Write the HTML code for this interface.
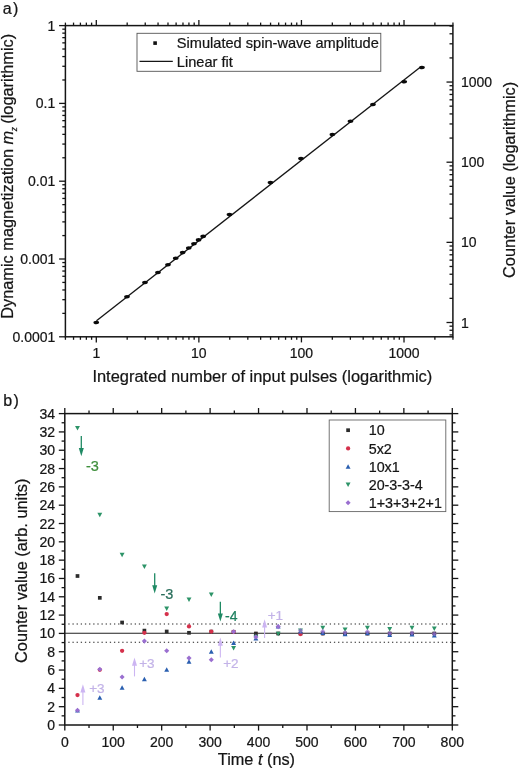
<!DOCTYPE html>
<html><head><meta charset="utf-8"><title>figure</title>
<style>html,body{margin:0;padding:0;background:#fff}svg{display:block}text{font-family:"Liberation Sans",Arial,sans-serif}</style>
</head><body>
<svg width="520" height="770" viewBox="0 0 520 770">
<rect width="520" height="770" fill="#ffffff"/>
<rect x="65.4" y="25.6" width="387.50" height="311.20" fill="none" stroke="#151515" stroke-width="1.5"/>
<line x1="65.42" y1="336.80" x2="65.42" y2="339.80" stroke="#151515" stroke-width="1.3" />
<line x1="65.42" y1="25.60" x2="65.42" y2="22.60" stroke="#151515" stroke-width="1.3" />
<line x1="73.54" y1="336.80" x2="73.54" y2="339.80" stroke="#151515" stroke-width="1.3" />
<line x1="73.54" y1="25.60" x2="73.54" y2="22.60" stroke="#151515" stroke-width="1.3" />
<line x1="80.41" y1="336.80" x2="80.41" y2="339.80" stroke="#151515" stroke-width="1.3" />
<line x1="80.41" y1="25.60" x2="80.41" y2="22.60" stroke="#151515" stroke-width="1.3" />
<line x1="86.36" y1="336.80" x2="86.36" y2="339.80" stroke="#151515" stroke-width="1.3" />
<line x1="86.36" y1="25.60" x2="86.36" y2="22.60" stroke="#151515" stroke-width="1.3" />
<line x1="91.61" y1="336.80" x2="91.61" y2="339.80" stroke="#151515" stroke-width="1.3" />
<line x1="91.61" y1="25.60" x2="91.61" y2="22.60" stroke="#151515" stroke-width="1.3" />
<line x1="96.30" y1="336.80" x2="96.30" y2="342.40" stroke="#151515" stroke-width="1.3" />
<line x1="96.30" y1="25.60" x2="96.30" y2="20.00" stroke="#151515" stroke-width="1.3" />
<line x1="127.18" y1="336.80" x2="127.18" y2="339.80" stroke="#151515" stroke-width="1.3" />
<line x1="127.18" y1="25.60" x2="127.18" y2="22.60" stroke="#151515" stroke-width="1.3" />
<line x1="145.24" y1="336.80" x2="145.24" y2="339.80" stroke="#151515" stroke-width="1.3" />
<line x1="145.24" y1="25.60" x2="145.24" y2="22.60" stroke="#151515" stroke-width="1.3" />
<line x1="158.05" y1="336.80" x2="158.05" y2="339.80" stroke="#151515" stroke-width="1.3" />
<line x1="158.05" y1="25.60" x2="158.05" y2="22.60" stroke="#151515" stroke-width="1.3" />
<line x1="167.99" y1="336.80" x2="167.99" y2="339.80" stroke="#151515" stroke-width="1.3" />
<line x1="167.99" y1="25.60" x2="167.99" y2="22.60" stroke="#151515" stroke-width="1.3" />
<line x1="176.11" y1="336.80" x2="176.11" y2="339.80" stroke="#151515" stroke-width="1.3" />
<line x1="176.11" y1="25.60" x2="176.11" y2="22.60" stroke="#151515" stroke-width="1.3" />
<line x1="182.98" y1="336.80" x2="182.98" y2="339.80" stroke="#151515" stroke-width="1.3" />
<line x1="182.98" y1="25.60" x2="182.98" y2="22.60" stroke="#151515" stroke-width="1.3" />
<line x1="188.93" y1="336.80" x2="188.93" y2="339.80" stroke="#151515" stroke-width="1.3" />
<line x1="188.93" y1="25.60" x2="188.93" y2="22.60" stroke="#151515" stroke-width="1.3" />
<line x1="194.18" y1="336.80" x2="194.18" y2="339.80" stroke="#151515" stroke-width="1.3" />
<line x1="194.18" y1="25.60" x2="194.18" y2="22.60" stroke="#151515" stroke-width="1.3" />
<line x1="198.87" y1="336.80" x2="198.87" y2="342.40" stroke="#151515" stroke-width="1.3" />
<line x1="198.87" y1="25.60" x2="198.87" y2="20.00" stroke="#151515" stroke-width="1.3" />
<line x1="229.75" y1="336.80" x2="229.75" y2="339.80" stroke="#151515" stroke-width="1.3" />
<line x1="229.75" y1="25.60" x2="229.75" y2="22.60" stroke="#151515" stroke-width="1.3" />
<line x1="247.81" y1="336.80" x2="247.81" y2="339.80" stroke="#151515" stroke-width="1.3" />
<line x1="247.81" y1="25.60" x2="247.81" y2="22.60" stroke="#151515" stroke-width="1.3" />
<line x1="260.62" y1="336.80" x2="260.62" y2="339.80" stroke="#151515" stroke-width="1.3" />
<line x1="260.62" y1="25.60" x2="260.62" y2="22.60" stroke="#151515" stroke-width="1.3" />
<line x1="270.56" y1="336.80" x2="270.56" y2="339.80" stroke="#151515" stroke-width="1.3" />
<line x1="270.56" y1="25.60" x2="270.56" y2="22.60" stroke="#151515" stroke-width="1.3" />
<line x1="278.68" y1="336.80" x2="278.68" y2="339.80" stroke="#151515" stroke-width="1.3" />
<line x1="278.68" y1="25.60" x2="278.68" y2="22.60" stroke="#151515" stroke-width="1.3" />
<line x1="285.55" y1="336.80" x2="285.55" y2="339.80" stroke="#151515" stroke-width="1.3" />
<line x1="285.55" y1="25.60" x2="285.55" y2="22.60" stroke="#151515" stroke-width="1.3" />
<line x1="291.50" y1="336.80" x2="291.50" y2="339.80" stroke="#151515" stroke-width="1.3" />
<line x1="291.50" y1="25.60" x2="291.50" y2="22.60" stroke="#151515" stroke-width="1.3" />
<line x1="296.75" y1="336.80" x2="296.75" y2="339.80" stroke="#151515" stroke-width="1.3" />
<line x1="296.75" y1="25.60" x2="296.75" y2="22.60" stroke="#151515" stroke-width="1.3" />
<line x1="301.44" y1="336.80" x2="301.44" y2="342.40" stroke="#151515" stroke-width="1.3" />
<line x1="301.44" y1="25.60" x2="301.44" y2="20.00" stroke="#151515" stroke-width="1.3" />
<line x1="332.32" y1="336.80" x2="332.32" y2="339.80" stroke="#151515" stroke-width="1.3" />
<line x1="332.32" y1="25.60" x2="332.32" y2="22.60" stroke="#151515" stroke-width="1.3" />
<line x1="350.38" y1="336.80" x2="350.38" y2="339.80" stroke="#151515" stroke-width="1.3" />
<line x1="350.38" y1="25.60" x2="350.38" y2="22.60" stroke="#151515" stroke-width="1.3" />
<line x1="363.19" y1="336.80" x2="363.19" y2="339.80" stroke="#151515" stroke-width="1.3" />
<line x1="363.19" y1="25.60" x2="363.19" y2="22.60" stroke="#151515" stroke-width="1.3" />
<line x1="373.13" y1="336.80" x2="373.13" y2="339.80" stroke="#151515" stroke-width="1.3" />
<line x1="373.13" y1="25.60" x2="373.13" y2="22.60" stroke="#151515" stroke-width="1.3" />
<line x1="381.25" y1="336.80" x2="381.25" y2="339.80" stroke="#151515" stroke-width="1.3" />
<line x1="381.25" y1="25.60" x2="381.25" y2="22.60" stroke="#151515" stroke-width="1.3" />
<line x1="388.12" y1="336.80" x2="388.12" y2="339.80" stroke="#151515" stroke-width="1.3" />
<line x1="388.12" y1="25.60" x2="388.12" y2="22.60" stroke="#151515" stroke-width="1.3" />
<line x1="394.07" y1="336.80" x2="394.07" y2="339.80" stroke="#151515" stroke-width="1.3" />
<line x1="394.07" y1="25.60" x2="394.07" y2="22.60" stroke="#151515" stroke-width="1.3" />
<line x1="399.32" y1="336.80" x2="399.32" y2="339.80" stroke="#151515" stroke-width="1.3" />
<line x1="399.32" y1="25.60" x2="399.32" y2="22.60" stroke="#151515" stroke-width="1.3" />
<line x1="404.01" y1="336.80" x2="404.01" y2="342.40" stroke="#151515" stroke-width="1.3" />
<line x1="404.01" y1="25.60" x2="404.01" y2="20.00" stroke="#151515" stroke-width="1.3" />
<line x1="434.89" y1="336.80" x2="434.89" y2="339.80" stroke="#151515" stroke-width="1.3" />
<line x1="434.89" y1="25.60" x2="434.89" y2="22.60" stroke="#151515" stroke-width="1.3" />
<line x1="452.95" y1="336.80" x2="452.95" y2="339.80" stroke="#151515" stroke-width="1.3" />
<line x1="452.95" y1="25.60" x2="452.95" y2="22.60" stroke="#151515" stroke-width="1.3" />
<line x1="65.40" y1="336.80" x2="59.10" y2="336.80" stroke="#151515" stroke-width="1.3" />
<line x1="65.40" y1="313.38" x2="62.30" y2="313.38" stroke="#151515" stroke-width="1.3" />
<line x1="65.40" y1="299.68" x2="62.30" y2="299.68" stroke="#151515" stroke-width="1.3" />
<line x1="65.40" y1="289.96" x2="62.30" y2="289.96" stroke="#151515" stroke-width="1.3" />
<line x1="65.40" y1="282.42" x2="62.30" y2="282.42" stroke="#151515" stroke-width="1.3" />
<line x1="65.40" y1="276.26" x2="62.30" y2="276.26" stroke="#151515" stroke-width="1.3" />
<line x1="65.40" y1="271.05" x2="62.30" y2="271.05" stroke="#151515" stroke-width="1.3" />
<line x1="65.40" y1="266.54" x2="62.30" y2="266.54" stroke="#151515" stroke-width="1.3" />
<line x1="65.40" y1="262.56" x2="62.30" y2="262.56" stroke="#151515" stroke-width="1.3" />
<line x1="65.40" y1="259.00" x2="59.10" y2="259.00" stroke="#151515" stroke-width="1.3" />
<line x1="65.40" y1="235.58" x2="62.30" y2="235.58" stroke="#151515" stroke-width="1.3" />
<line x1="65.40" y1="221.88" x2="62.30" y2="221.88" stroke="#151515" stroke-width="1.3" />
<line x1="65.40" y1="212.16" x2="62.30" y2="212.16" stroke="#151515" stroke-width="1.3" />
<line x1="65.40" y1="204.62" x2="62.30" y2="204.62" stroke="#151515" stroke-width="1.3" />
<line x1="65.40" y1="198.46" x2="62.30" y2="198.46" stroke="#151515" stroke-width="1.3" />
<line x1="65.40" y1="193.25" x2="62.30" y2="193.25" stroke="#151515" stroke-width="1.3" />
<line x1="65.40" y1="188.74" x2="62.30" y2="188.74" stroke="#151515" stroke-width="1.3" />
<line x1="65.40" y1="184.76" x2="62.30" y2="184.76" stroke="#151515" stroke-width="1.3" />
<line x1="65.40" y1="181.20" x2="59.10" y2="181.20" stroke="#151515" stroke-width="1.3" />
<line x1="65.40" y1="157.78" x2="62.30" y2="157.78" stroke="#151515" stroke-width="1.3" />
<line x1="65.40" y1="144.08" x2="62.30" y2="144.08" stroke="#151515" stroke-width="1.3" />
<line x1="65.40" y1="134.36" x2="62.30" y2="134.36" stroke="#151515" stroke-width="1.3" />
<line x1="65.40" y1="126.82" x2="62.30" y2="126.82" stroke="#151515" stroke-width="1.3" />
<line x1="65.40" y1="120.66" x2="62.30" y2="120.66" stroke="#151515" stroke-width="1.3" />
<line x1="65.40" y1="115.45" x2="62.30" y2="115.45" stroke="#151515" stroke-width="1.3" />
<line x1="65.40" y1="110.94" x2="62.30" y2="110.94" stroke="#151515" stroke-width="1.3" />
<line x1="65.40" y1="106.96" x2="62.30" y2="106.96" stroke="#151515" stroke-width="1.3" />
<line x1="65.40" y1="103.40" x2="59.10" y2="103.40" stroke="#151515" stroke-width="1.3" />
<line x1="65.40" y1="79.98" x2="62.30" y2="79.98" stroke="#151515" stroke-width="1.3" />
<line x1="65.40" y1="66.28" x2="62.30" y2="66.28" stroke="#151515" stroke-width="1.3" />
<line x1="65.40" y1="56.56" x2="62.30" y2="56.56" stroke="#151515" stroke-width="1.3" />
<line x1="65.40" y1="49.02" x2="62.30" y2="49.02" stroke="#151515" stroke-width="1.3" />
<line x1="65.40" y1="42.86" x2="62.30" y2="42.86" stroke="#151515" stroke-width="1.3" />
<line x1="65.40" y1="37.65" x2="62.30" y2="37.65" stroke="#151515" stroke-width="1.3" />
<line x1="65.40" y1="33.14" x2="62.30" y2="33.14" stroke="#151515" stroke-width="1.3" />
<line x1="65.40" y1="29.16" x2="62.30" y2="29.16" stroke="#151515" stroke-width="1.3" />
<line x1="65.40" y1="25.60" x2="59.10" y2="25.60" stroke="#151515" stroke-width="1.3" />
<line x1="452.90" y1="334.92" x2="449.50" y2="334.92" stroke="#151515" stroke-width="1.3" />
<line x1="452.90" y1="330.27" x2="449.50" y2="330.27" stroke="#151515" stroke-width="1.3" />
<line x1="452.90" y1="326.17" x2="449.50" y2="326.17" stroke="#151515" stroke-width="1.3" />
<line x1="452.90" y1="322.50" x2="446.50" y2="322.50" stroke="#151515" stroke-width="1.3" />
<line x1="452.90" y1="298.37" x2="449.50" y2="298.37" stroke="#151515" stroke-width="1.3" />
<line x1="452.90" y1="284.26" x2="449.50" y2="284.26" stroke="#151515" stroke-width="1.3" />
<line x1="452.90" y1="274.24" x2="449.50" y2="274.24" stroke="#151515" stroke-width="1.3" />
<line x1="452.90" y1="266.48" x2="449.50" y2="266.48" stroke="#151515" stroke-width="1.3" />
<line x1="452.90" y1="260.13" x2="449.50" y2="260.13" stroke="#151515" stroke-width="1.3" />
<line x1="452.90" y1="254.77" x2="449.50" y2="254.77" stroke="#151515" stroke-width="1.3" />
<line x1="452.90" y1="250.12" x2="449.50" y2="250.12" stroke="#151515" stroke-width="1.3" />
<line x1="452.90" y1="246.02" x2="449.50" y2="246.02" stroke="#151515" stroke-width="1.3" />
<line x1="452.90" y1="242.35" x2="446.50" y2="242.35" stroke="#151515" stroke-width="1.3" />
<line x1="452.90" y1="218.22" x2="449.50" y2="218.22" stroke="#151515" stroke-width="1.3" />
<line x1="452.90" y1="204.11" x2="449.50" y2="204.11" stroke="#151515" stroke-width="1.3" />
<line x1="452.90" y1="194.09" x2="449.50" y2="194.09" stroke="#151515" stroke-width="1.3" />
<line x1="452.90" y1="186.33" x2="449.50" y2="186.33" stroke="#151515" stroke-width="1.3" />
<line x1="452.90" y1="179.98" x2="449.50" y2="179.98" stroke="#151515" stroke-width="1.3" />
<line x1="452.90" y1="174.62" x2="449.50" y2="174.62" stroke="#151515" stroke-width="1.3" />
<line x1="452.90" y1="169.97" x2="449.50" y2="169.97" stroke="#151515" stroke-width="1.3" />
<line x1="452.90" y1="165.87" x2="449.50" y2="165.87" stroke="#151515" stroke-width="1.3" />
<line x1="452.90" y1="162.20" x2="446.50" y2="162.20" stroke="#151515" stroke-width="1.3" />
<line x1="452.90" y1="138.07" x2="449.50" y2="138.07" stroke="#151515" stroke-width="1.3" />
<line x1="452.90" y1="123.96" x2="449.50" y2="123.96" stroke="#151515" stroke-width="1.3" />
<line x1="452.90" y1="113.94" x2="449.50" y2="113.94" stroke="#151515" stroke-width="1.3" />
<line x1="452.90" y1="106.18" x2="449.50" y2="106.18" stroke="#151515" stroke-width="1.3" />
<line x1="452.90" y1="99.83" x2="449.50" y2="99.83" stroke="#151515" stroke-width="1.3" />
<line x1="452.90" y1="94.47" x2="449.50" y2="94.47" stroke="#151515" stroke-width="1.3" />
<line x1="452.90" y1="89.82" x2="449.50" y2="89.82" stroke="#151515" stroke-width="1.3" />
<line x1="452.90" y1="85.72" x2="449.50" y2="85.72" stroke="#151515" stroke-width="1.3" />
<line x1="452.90" y1="82.05" x2="446.50" y2="82.05" stroke="#151515" stroke-width="1.3" />
<line x1="452.90" y1="57.92" x2="449.50" y2="57.92" stroke="#151515" stroke-width="1.3" />
<line x1="452.90" y1="43.81" x2="449.50" y2="43.81" stroke="#151515" stroke-width="1.3" />
<line x1="452.90" y1="33.79" x2="449.50" y2="33.79" stroke="#151515" stroke-width="1.3" />
<line x1="452.90" y1="26.03" x2="449.50" y2="26.03" stroke="#151515" stroke-width="1.3" />
<text x="96.30" y="358.20" font-size="14" text-anchor="middle" fill="#151515" stroke="#151515" stroke-width="0.22" >1</text>
<text x="461.00" y="327.50" font-size="14" text-anchor="start" fill="#151515" stroke="#151515" stroke-width="0.22" >1</text>
<text x="198.87" y="358.20" font-size="14" text-anchor="middle" fill="#151515" stroke="#151515" stroke-width="0.22" >10</text>
<text x="461.00" y="247.35" font-size="14" text-anchor="start" fill="#151515" stroke="#151515" stroke-width="0.22" >10</text>
<text x="301.44" y="358.20" font-size="14" text-anchor="middle" fill="#151515" stroke="#151515" stroke-width="0.22" >100</text>
<text x="461.00" y="167.20" font-size="14" text-anchor="start" fill="#151515" stroke="#151515" stroke-width="0.22" >100</text>
<text x="404.01" y="358.20" font-size="14" text-anchor="middle" fill="#151515" stroke="#151515" stroke-width="0.22" >1000</text>
<text x="461.00" y="87.05" font-size="14" text-anchor="start" fill="#151515" stroke="#151515" stroke-width="0.22" >1000</text>
<text x="55.30" y="30.60" font-size="14" text-anchor="end" fill="#151515" stroke="#151515" stroke-width="0.22" >1</text>
<text x="55.30" y="108.40" font-size="14" text-anchor="end" fill="#151515" stroke="#151515" stroke-width="0.22" >0.1</text>
<text x="55.30" y="186.20" font-size="14" text-anchor="end" fill="#151515" stroke="#151515" stroke-width="0.22" >0.01</text>
<text x="55.30" y="264.00" font-size="14" text-anchor="end" fill="#151515" stroke="#151515" stroke-width="0.22" >0.001</text>
<text x="55.30" y="341.80" font-size="14" text-anchor="end" fill="#151515" stroke="#151515" stroke-width="0.22" >0.0001</text>
<line x1="96.50" y1="320.80" x2="421.50" y2="66.25" stroke="#151515" stroke-width="1.35" />
<ellipse cx="96.3" cy="322.5" rx="2.85" ry="1.8" fill="#0a0a0a"/>
<ellipse cx="127" cy="296.75" rx="2.85" ry="1.8" fill="#0a0a0a"/>
<ellipse cx="145" cy="282.5" rx="2.85" ry="1.8" fill="#0a0a0a"/>
<ellipse cx="158" cy="272.5" rx="2.85" ry="1.8" fill="#0a0a0a"/>
<ellipse cx="168" cy="264.75" rx="2.85" ry="1.8" fill="#0a0a0a"/>
<ellipse cx="175.75" cy="258.25" rx="2.85" ry="1.8" fill="#0a0a0a"/>
<ellipse cx="182.7" cy="252.6" rx="2.85" ry="1.8" fill="#0a0a0a"/>
<ellipse cx="188.8" cy="248.0" rx="2.85" ry="1.8" fill="#0a0a0a"/>
<ellipse cx="194" cy="243.8" rx="2.85" ry="1.8" fill="#0a0a0a"/>
<ellipse cx="198.6" cy="239.9" rx="2.85" ry="1.8" fill="#0a0a0a"/>
<ellipse cx="203.2" cy="236.4" rx="2.85" ry="1.8" fill="#0a0a0a"/>
<ellipse cx="229.5" cy="214.5" rx="2.85" ry="1.8" fill="#0a0a0a"/>
<ellipse cx="270.5" cy="182.5" rx="2.85" ry="1.8" fill="#0a0a0a"/>
<ellipse cx="301" cy="158.5" rx="2.85" ry="1.8" fill="#0a0a0a"/>
<ellipse cx="332.4" cy="134.5" rx="2.85" ry="1.8" fill="#0a0a0a"/>
<ellipse cx="350.5" cy="121.25" rx="2.85" ry="1.8" fill="#0a0a0a"/>
<ellipse cx="373" cy="104.5" rx="2.85" ry="1.8" fill="#0a0a0a"/>
<ellipse cx="404.25" cy="81.75" rx="2.85" ry="1.8" fill="#0a0a0a"/>
<ellipse cx="422" cy="67.5" rx="2.85" ry="1.8" fill="#0a0a0a"/>
<rect x="137" y="33.3" width="243.8" height="38.0" fill="#fff" stroke="#555" stroke-width="0.9"/>
<rect x="153.3" y="41.3" width="3.6" height="3.6" fill="#111"/>
<line x1="139.50" y1="61.30" x2="172.80" y2="61.30" stroke="#151515" stroke-width="1.3" />
<text x="176.80" y="48.40" font-size="14.6" text-anchor="start" fill="#151515" stroke="#151515" stroke-width="0.22" >Simulated spin-wave amplitude</text>
<text x="176.80" y="66.70" font-size="14.6" text-anchor="start" fill="#151515" stroke="#151515" stroke-width="0.22" >Linear fit</text>
<text x="92.40" y="382.30" font-size="16.45" text-anchor="start" fill="#151515" stroke="#151515" stroke-width="0.22" >Integrated number of input pulses (logarithmic)</text>
<text transform="translate(13.4,318.8) rotate(-90)" font-size="16.35" fill="#151515" stroke="#151515" stroke-width="0.22">Dynamic magnetization <tspan font-style="italic">m</tspan><tspan font-size="8.2" dy="3.6" dx="-0.4" font-style="italic">z</tspan><tspan dy="-3.6" dx="-1.2"> (logarithmic)</tspan></text>
<text transform="translate(515.3,278) rotate(-90)" font-size="16.35" fill="#151515" stroke="#151515" stroke-width="0.22">Counter value (logarithmic)</text>
<text x="2.80" y="14.00" font-size="16" text-anchor="start" fill="#151515" stroke="#151515" stroke-width="0.22" letter-spacing="1.3">a)</text>
<rect x="64.8" y="413.6" width="387.50" height="311.40" fill="none" stroke="#151515" stroke-width="1.5"/>
<line x1="64.80" y1="725.00" x2="64.80" y2="730.60" stroke="#151515" stroke-width="1.3" />
<line x1="64.80" y1="413.60" x2="64.80" y2="408.00" stroke="#151515" stroke-width="1.3" />
<text x="64.80" y="747.30" font-size="14" text-anchor="middle" fill="#151515" stroke="#151515" stroke-width="0.22" >0</text>
<line x1="89.02" y1="725.00" x2="89.02" y2="728.00" stroke="#151515" stroke-width="1.3" />
<line x1="89.02" y1="413.60" x2="89.02" y2="410.60" stroke="#151515" stroke-width="1.3" />
<line x1="113.24" y1="725.00" x2="113.24" y2="730.60" stroke="#151515" stroke-width="1.3" />
<line x1="113.24" y1="413.60" x2="113.24" y2="408.00" stroke="#151515" stroke-width="1.3" />
<text x="113.24" y="747.30" font-size="14" text-anchor="middle" fill="#151515" stroke="#151515" stroke-width="0.22" >100</text>
<line x1="137.46" y1="725.00" x2="137.46" y2="728.00" stroke="#151515" stroke-width="1.3" />
<line x1="137.46" y1="413.60" x2="137.46" y2="410.60" stroke="#151515" stroke-width="1.3" />
<line x1="161.68" y1="725.00" x2="161.68" y2="730.60" stroke="#151515" stroke-width="1.3" />
<line x1="161.68" y1="413.60" x2="161.68" y2="408.00" stroke="#151515" stroke-width="1.3" />
<text x="161.68" y="747.30" font-size="14" text-anchor="middle" fill="#151515" stroke="#151515" stroke-width="0.22" >200</text>
<line x1="185.89" y1="725.00" x2="185.89" y2="728.00" stroke="#151515" stroke-width="1.3" />
<line x1="185.89" y1="413.60" x2="185.89" y2="410.60" stroke="#151515" stroke-width="1.3" />
<line x1="210.11" y1="725.00" x2="210.11" y2="730.60" stroke="#151515" stroke-width="1.3" />
<line x1="210.11" y1="413.60" x2="210.11" y2="408.00" stroke="#151515" stroke-width="1.3" />
<text x="210.11" y="747.30" font-size="14" text-anchor="middle" fill="#151515" stroke="#151515" stroke-width="0.22" >300</text>
<line x1="234.33" y1="725.00" x2="234.33" y2="728.00" stroke="#151515" stroke-width="1.3" />
<line x1="234.33" y1="413.60" x2="234.33" y2="410.60" stroke="#151515" stroke-width="1.3" />
<line x1="258.55" y1="725.00" x2="258.55" y2="730.60" stroke="#151515" stroke-width="1.3" />
<line x1="258.55" y1="413.60" x2="258.55" y2="408.00" stroke="#151515" stroke-width="1.3" />
<text x="258.55" y="747.30" font-size="14" text-anchor="middle" fill="#151515" stroke="#151515" stroke-width="0.22" >400</text>
<line x1="282.77" y1="725.00" x2="282.77" y2="728.00" stroke="#151515" stroke-width="1.3" />
<line x1="282.77" y1="413.60" x2="282.77" y2="410.60" stroke="#151515" stroke-width="1.3" />
<line x1="306.99" y1="725.00" x2="306.99" y2="730.60" stroke="#151515" stroke-width="1.3" />
<line x1="306.99" y1="413.60" x2="306.99" y2="408.00" stroke="#151515" stroke-width="1.3" />
<text x="306.99" y="747.30" font-size="14" text-anchor="middle" fill="#151515" stroke="#151515" stroke-width="0.22" >500</text>
<line x1="331.21" y1="725.00" x2="331.21" y2="728.00" stroke="#151515" stroke-width="1.3" />
<line x1="331.21" y1="413.60" x2="331.21" y2="410.60" stroke="#151515" stroke-width="1.3" />
<line x1="355.43" y1="725.00" x2="355.43" y2="730.60" stroke="#151515" stroke-width="1.3" />
<line x1="355.43" y1="413.60" x2="355.43" y2="408.00" stroke="#151515" stroke-width="1.3" />
<text x="355.43" y="747.30" font-size="14" text-anchor="middle" fill="#151515" stroke="#151515" stroke-width="0.22" >600</text>
<line x1="379.64" y1="725.00" x2="379.64" y2="728.00" stroke="#151515" stroke-width="1.3" />
<line x1="379.64" y1="413.60" x2="379.64" y2="410.60" stroke="#151515" stroke-width="1.3" />
<line x1="403.86" y1="725.00" x2="403.86" y2="730.60" stroke="#151515" stroke-width="1.3" />
<line x1="403.86" y1="413.60" x2="403.86" y2="408.00" stroke="#151515" stroke-width="1.3" />
<text x="403.86" y="747.30" font-size="14" text-anchor="middle" fill="#151515" stroke="#151515" stroke-width="0.22" >700</text>
<line x1="428.08" y1="725.00" x2="428.08" y2="728.00" stroke="#151515" stroke-width="1.3" />
<line x1="428.08" y1="413.60" x2="428.08" y2="410.60" stroke="#151515" stroke-width="1.3" />
<line x1="452.30" y1="725.00" x2="452.30" y2="730.60" stroke="#151515" stroke-width="1.3" />
<line x1="452.30" y1="413.60" x2="452.30" y2="408.00" stroke="#151515" stroke-width="1.3" />
<text x="452.30" y="747.30" font-size="14" text-anchor="middle" fill="#151515" stroke="#151515" stroke-width="0.22" >800</text>
<line x1="64.80" y1="725.00" x2="58.80" y2="725.00" stroke="#151515" stroke-width="1.3" />
<line x1="452.30" y1="725.00" x2="458.30" y2="725.00" stroke="#151515" stroke-width="1.3" />
<text x="55.10" y="730.00" font-size="14" text-anchor="end" fill="#151515" stroke="#151515" stroke-width="0.22" >0</text>
<line x1="64.80" y1="715.84" x2="61.60" y2="715.84" stroke="#151515" stroke-width="1.3" />
<line x1="452.30" y1="715.84" x2="455.50" y2="715.84" stroke="#151515" stroke-width="1.3" />
<line x1="64.80" y1="706.68" x2="58.80" y2="706.68" stroke="#151515" stroke-width="1.3" />
<line x1="452.30" y1="706.68" x2="458.30" y2="706.68" stroke="#151515" stroke-width="1.3" />
<text x="55.10" y="711.68" font-size="14" text-anchor="end" fill="#151515" stroke="#151515" stroke-width="0.22" >2</text>
<line x1="64.80" y1="697.52" x2="61.60" y2="697.52" stroke="#151515" stroke-width="1.3" />
<line x1="452.30" y1="697.52" x2="455.50" y2="697.52" stroke="#151515" stroke-width="1.3" />
<line x1="64.80" y1="688.36" x2="58.80" y2="688.36" stroke="#151515" stroke-width="1.3" />
<line x1="452.30" y1="688.36" x2="458.30" y2="688.36" stroke="#151515" stroke-width="1.3" />
<text x="55.10" y="693.36" font-size="14" text-anchor="end" fill="#151515" stroke="#151515" stroke-width="0.22" >4</text>
<line x1="64.80" y1="679.21" x2="61.60" y2="679.21" stroke="#151515" stroke-width="1.3" />
<line x1="452.30" y1="679.21" x2="455.50" y2="679.21" stroke="#151515" stroke-width="1.3" />
<line x1="64.80" y1="670.05" x2="58.80" y2="670.05" stroke="#151515" stroke-width="1.3" />
<line x1="452.30" y1="670.05" x2="458.30" y2="670.05" stroke="#151515" stroke-width="1.3" />
<text x="55.10" y="675.05" font-size="14" text-anchor="end" fill="#151515" stroke="#151515" stroke-width="0.22" >6</text>
<line x1="64.80" y1="660.89" x2="61.60" y2="660.89" stroke="#151515" stroke-width="1.3" />
<line x1="452.30" y1="660.89" x2="455.50" y2="660.89" stroke="#151515" stroke-width="1.3" />
<line x1="64.80" y1="651.73" x2="58.80" y2="651.73" stroke="#151515" stroke-width="1.3" />
<line x1="452.30" y1="651.73" x2="458.30" y2="651.73" stroke="#151515" stroke-width="1.3" />
<text x="55.10" y="656.73" font-size="14" text-anchor="end" fill="#151515" stroke="#151515" stroke-width="0.22" >8</text>
<line x1="64.80" y1="642.57" x2="61.60" y2="642.57" stroke="#151515" stroke-width="1.3" />
<line x1="452.30" y1="642.57" x2="455.50" y2="642.57" stroke="#151515" stroke-width="1.3" />
<line x1="64.80" y1="633.41" x2="58.80" y2="633.41" stroke="#151515" stroke-width="1.3" />
<line x1="452.30" y1="633.41" x2="458.30" y2="633.41" stroke="#151515" stroke-width="1.3" />
<text x="55.10" y="638.41" font-size="14" text-anchor="end" fill="#151515" stroke="#151515" stroke-width="0.22" >10</text>
<line x1="64.80" y1="624.25" x2="61.60" y2="624.25" stroke="#151515" stroke-width="1.3" />
<line x1="452.30" y1="624.25" x2="455.50" y2="624.25" stroke="#151515" stroke-width="1.3" />
<line x1="64.80" y1="615.09" x2="58.80" y2="615.09" stroke="#151515" stroke-width="1.3" />
<line x1="452.30" y1="615.09" x2="458.30" y2="615.09" stroke="#151515" stroke-width="1.3" />
<text x="55.10" y="620.09" font-size="14" text-anchor="end" fill="#151515" stroke="#151515" stroke-width="0.22" >12</text>
<line x1="64.80" y1="605.94" x2="61.60" y2="605.94" stroke="#151515" stroke-width="1.3" />
<line x1="452.30" y1="605.94" x2="455.50" y2="605.94" stroke="#151515" stroke-width="1.3" />
<line x1="64.80" y1="596.78" x2="58.80" y2="596.78" stroke="#151515" stroke-width="1.3" />
<line x1="452.30" y1="596.78" x2="458.30" y2="596.78" stroke="#151515" stroke-width="1.3" />
<text x="55.10" y="601.78" font-size="14" text-anchor="end" fill="#151515" stroke="#151515" stroke-width="0.22" >14</text>
<line x1="64.80" y1="587.62" x2="61.60" y2="587.62" stroke="#151515" stroke-width="1.3" />
<line x1="452.30" y1="587.62" x2="455.50" y2="587.62" stroke="#151515" stroke-width="1.3" />
<line x1="64.80" y1="578.46" x2="58.80" y2="578.46" stroke="#151515" stroke-width="1.3" />
<line x1="452.30" y1="578.46" x2="458.30" y2="578.46" stroke="#151515" stroke-width="1.3" />
<text x="55.10" y="583.46" font-size="14" text-anchor="end" fill="#151515" stroke="#151515" stroke-width="0.22" >16</text>
<line x1="64.80" y1="569.30" x2="61.60" y2="569.30" stroke="#151515" stroke-width="1.3" />
<line x1="452.30" y1="569.30" x2="455.50" y2="569.30" stroke="#151515" stroke-width="1.3" />
<line x1="64.80" y1="560.14" x2="58.80" y2="560.14" stroke="#151515" stroke-width="1.3" />
<line x1="452.30" y1="560.14" x2="458.30" y2="560.14" stroke="#151515" stroke-width="1.3" />
<text x="55.10" y="565.14" font-size="14" text-anchor="end" fill="#151515" stroke="#151515" stroke-width="0.22" >18</text>
<line x1="64.80" y1="550.98" x2="61.60" y2="550.98" stroke="#151515" stroke-width="1.3" />
<line x1="452.30" y1="550.98" x2="455.50" y2="550.98" stroke="#151515" stroke-width="1.3" />
<line x1="64.80" y1="541.82" x2="58.80" y2="541.82" stroke="#151515" stroke-width="1.3" />
<line x1="452.30" y1="541.82" x2="458.30" y2="541.82" stroke="#151515" stroke-width="1.3" />
<text x="55.10" y="546.82" font-size="14" text-anchor="end" fill="#151515" stroke="#151515" stroke-width="0.22" >20</text>
<line x1="64.80" y1="532.66" x2="61.60" y2="532.66" stroke="#151515" stroke-width="1.3" />
<line x1="452.30" y1="532.66" x2="455.50" y2="532.66" stroke="#151515" stroke-width="1.3" />
<line x1="64.80" y1="523.51" x2="58.80" y2="523.51" stroke="#151515" stroke-width="1.3" />
<line x1="452.30" y1="523.51" x2="458.30" y2="523.51" stroke="#151515" stroke-width="1.3" />
<text x="55.10" y="528.51" font-size="14" text-anchor="end" fill="#151515" stroke="#151515" stroke-width="0.22" >22</text>
<line x1="64.80" y1="514.35" x2="61.60" y2="514.35" stroke="#151515" stroke-width="1.3" />
<line x1="452.30" y1="514.35" x2="455.50" y2="514.35" stroke="#151515" stroke-width="1.3" />
<line x1="64.80" y1="505.19" x2="58.80" y2="505.19" stroke="#151515" stroke-width="1.3" />
<line x1="452.30" y1="505.19" x2="458.30" y2="505.19" stroke="#151515" stroke-width="1.3" />
<text x="55.10" y="510.19" font-size="14" text-anchor="end" fill="#151515" stroke="#151515" stroke-width="0.22" >24</text>
<line x1="64.80" y1="496.03" x2="61.60" y2="496.03" stroke="#151515" stroke-width="1.3" />
<line x1="452.30" y1="496.03" x2="455.50" y2="496.03" stroke="#151515" stroke-width="1.3" />
<line x1="64.80" y1="486.87" x2="58.80" y2="486.87" stroke="#151515" stroke-width="1.3" />
<line x1="452.30" y1="486.87" x2="458.30" y2="486.87" stroke="#151515" stroke-width="1.3" />
<text x="55.10" y="491.87" font-size="14" text-anchor="end" fill="#151515" stroke="#151515" stroke-width="0.22" >26</text>
<line x1="64.80" y1="477.71" x2="61.60" y2="477.71" stroke="#151515" stroke-width="1.3" />
<line x1="452.30" y1="477.71" x2="455.50" y2="477.71" stroke="#151515" stroke-width="1.3" />
<line x1="64.80" y1="468.55" x2="58.80" y2="468.55" stroke="#151515" stroke-width="1.3" />
<line x1="452.30" y1="468.55" x2="458.30" y2="468.55" stroke="#151515" stroke-width="1.3" />
<text x="55.10" y="473.55" font-size="14" text-anchor="end" fill="#151515" stroke="#151515" stroke-width="0.22" >28</text>
<line x1="64.80" y1="459.39" x2="61.60" y2="459.39" stroke="#151515" stroke-width="1.3" />
<line x1="452.30" y1="459.39" x2="455.50" y2="459.39" stroke="#151515" stroke-width="1.3" />
<line x1="64.80" y1="450.24" x2="58.80" y2="450.24" stroke="#151515" stroke-width="1.3" />
<line x1="452.30" y1="450.24" x2="458.30" y2="450.24" stroke="#151515" stroke-width="1.3" />
<text x="55.10" y="455.24" font-size="14" text-anchor="end" fill="#151515" stroke="#151515" stroke-width="0.22" >30</text>
<line x1="64.80" y1="441.08" x2="61.60" y2="441.08" stroke="#151515" stroke-width="1.3" />
<line x1="452.30" y1="441.08" x2="455.50" y2="441.08" stroke="#151515" stroke-width="1.3" />
<line x1="64.80" y1="431.92" x2="58.80" y2="431.92" stroke="#151515" stroke-width="1.3" />
<line x1="452.30" y1="431.92" x2="458.30" y2="431.92" stroke="#151515" stroke-width="1.3" />
<text x="55.10" y="436.92" font-size="14" text-anchor="end" fill="#151515" stroke="#151515" stroke-width="0.22" >32</text>
<line x1="64.80" y1="422.76" x2="61.60" y2="422.76" stroke="#151515" stroke-width="1.3" />
<line x1="452.30" y1="422.76" x2="455.50" y2="422.76" stroke="#151515" stroke-width="1.3" />
<line x1="64.80" y1="413.60" x2="58.80" y2="413.60" stroke="#151515" stroke-width="1.3" />
<line x1="452.30" y1="413.60" x2="458.30" y2="413.60" stroke="#151515" stroke-width="1.3" />
<text x="55.10" y="418.60" font-size="14" text-anchor="end" fill="#151515" stroke="#151515" stroke-width="0.22" >34</text>
<line x1="64.80" y1="633.21" x2="452.30" y2="633.21" stroke="#222" stroke-width="1.1" />
<line x1="68.30" y1="642.27" x2="452.30" y2="642.27" stroke="#222" stroke-width="1.05" stroke-dasharray="1.3 2.85"/>
<line x1="68.30" y1="623.95" x2="452.30" y2="623.95" stroke="#222" stroke-width="1.05" stroke-dasharray="1.3 2.85"/>
<circle cx="255.90" cy="633.60" r="1.75" fill="#d5304b"/>
<circle cx="278.20" cy="633.60" r="1.75" fill="#d5304b"/>
<circle cx="322.80" cy="633.70" r="1.75" fill="#d5304b"/>
<circle cx="345.10" cy="633.70" r="1.75" fill="#d5304b"/>
<circle cx="367.40" cy="633.70" r="1.75" fill="#d5304b"/>
<circle cx="389.70" cy="633.70" r="1.75" fill="#d5304b"/>
<circle cx="412.00" cy="633.70" r="1.75" fill="#d5304b"/>
<circle cx="434.30" cy="633.70" r="1.75" fill="#d5304b"/>
<rect x="75.65" y="574.15" width="3.7" height="3.7" fill="#2b2b2b"/>
<rect x="97.95" y="596.00" width="3.7" height="3.7" fill="#2b2b2b"/>
<rect x="120.25" y="620.65" width="3.7" height="3.7" fill="#2b2b2b"/>
<rect x="142.55" y="628.75" width="3.7" height="3.7" fill="#2b2b2b"/>
<rect x="164.85" y="629.65" width="3.7" height="3.7" fill="#2b2b2b"/>
<rect x="187.15" y="630.95" width="3.7" height="3.7" fill="#2b2b2b"/>
<rect x="209.45" y="629.75" width="3.7" height="3.7" fill="#2b2b2b"/>
<rect x="231.75" y="629.95" width="3.7" height="3.7" fill="#2b2b2b"/>
<rect x="254.05" y="631.65" width="3.7" height="3.7" fill="#2b2b2b"/>
<rect x="276.35" y="631.65" width="3.7" height="3.7" fill="#2b2b2b"/>
<rect x="298.65" y="631.65" width="3.7" height="3.7" fill="#2b2b2b"/>
<rect x="320.95" y="631.65" width="3.7" height="3.7" fill="#2b2b2b"/>
<rect x="343.25" y="631.65" width="3.7" height="3.7" fill="#2b2b2b"/>
<rect x="365.55" y="631.65" width="3.7" height="3.7" fill="#2b2b2b"/>
<rect x="387.85" y="631.65" width="3.7" height="3.7" fill="#2b2b2b"/>
<rect x="410.15" y="631.65" width="3.7" height="3.7" fill="#2b2b2b"/>
<rect x="432.45" y="631.65" width="3.7" height="3.7" fill="#2b2b2b"/>
<circle cx="77.50" cy="695.10" r="2.15" fill="#d5304b"/>
<circle cx="99.80" cy="669.80" r="2.15" fill="#d5304b"/>
<circle cx="122.10" cy="650.80" r="2.15" fill="#d5304b"/>
<circle cx="144.40" cy="632.80" r="2.15" fill="#d5304b"/>
<circle cx="166.70" cy="614.10" r="2.15" fill="#d5304b"/>
<circle cx="189.00" cy="626.40" r="2.15" fill="#d5304b"/>
<circle cx="211.30" cy="631.60" r="2.15" fill="#d5304b"/>
<circle cx="233.60" cy="631.80" r="2.15" fill="#d5304b"/>
<circle cx="300.50" cy="634.00" r="2.15" fill="#d5304b"/>
<path d="M75.05 712.40L79.95 712.40L77.50 707.90Z" fill="#2a5fb0"/>
<path d="M97.35 699.80L102.25 699.80L99.80 695.30Z" fill="#2a5fb0"/>
<path d="M119.65 689.80L124.55 689.80L122.10 685.30Z" fill="#2a5fb0"/>
<path d="M141.95 681.20L146.85 681.20L144.40 676.70Z" fill="#2a5fb0"/>
<path d="M164.25 671.80L169.15 671.80L166.70 667.30Z" fill="#2a5fb0"/>
<path d="M186.55 663.70L191.45 663.70L189.00 659.20Z" fill="#2a5fb0"/>
<path d="M208.85 653.80L213.75 653.80L211.30 649.30Z" fill="#2a5fb0"/>
<path d="M231.15 645.00L236.05 645.00L233.60 640.50Z" fill="#2a5fb0"/>
<path d="M253.45 640.60L258.35 640.60L255.90 636.10Z" fill="#2a5fb0"/>
<path d="M275.75 628.60L280.65 628.60L278.20 624.10Z" fill="#2a5fb0"/>
<path d="M298.05 633.40L302.95 633.40L300.50 628.90Z" fill="#2a5fb0"/>
<path d="M320.35 635.00L325.25 635.00L322.80 630.50Z" fill="#2a5fb0"/>
<path d="M342.65 636.20L347.55 636.20L345.10 631.70Z" fill="#2a5fb0"/>
<path d="M364.95 635.30L369.85 635.30L367.40 630.80Z" fill="#2a5fb0"/>
<path d="M387.25 636.90L392.15 636.90L389.70 632.40Z" fill="#2a5fb0"/>
<path d="M409.55 636.60L414.45 636.60L412.00 632.10Z" fill="#2a5fb0"/>
<path d="M431.85 637.40L436.75 637.40L434.30 632.90Z" fill="#2a5fb0"/>
<path d="M75.05 426.00L79.95 426.00L77.50 430.50Z" fill="#2d9468"/>
<path d="M97.35 512.80L102.25 512.80L99.80 517.30Z" fill="#2d9468"/>
<path d="M119.65 552.80L124.55 552.80L122.10 557.30Z" fill="#2d9468"/>
<path d="M141.95 564.50L146.85 564.50L144.40 569.00Z" fill="#2d9468"/>
<path d="M164.25 606.50L169.15 606.50L166.70 611.00Z" fill="#2d9468"/>
<path d="M186.55 597.50L191.45 597.50L189.00 602.00Z" fill="#2d9468"/>
<path d="M208.85 592.40L213.75 592.40L211.30 596.90Z" fill="#2d9468"/>
<path d="M231.15 646.00L236.05 646.00L233.60 650.50Z" fill="#2d9468"/>
<path d="M253.45 634.80L258.35 634.80L255.90 639.30Z" fill="#2d9468"/>
<path d="M275.75 631.70L280.65 631.70L278.20 636.20Z" fill="#2d9468"/>
<path d="M298.05 628.50L302.95 628.50L300.50 633.00Z" fill="#2d9468"/>
<path d="M320.35 625.80L325.25 625.80L322.80 630.30Z" fill="#2d9468"/>
<path d="M342.65 627.40L347.55 627.40L345.10 631.90Z" fill="#2d9468"/>
<path d="M364.95 625.70L369.85 625.70L367.40 630.20Z" fill="#2d9468"/>
<path d="M387.25 627.00L392.15 627.00L389.70 631.50Z" fill="#2d9468"/>
<path d="M409.55 625.70L414.45 625.70L412.00 630.20Z" fill="#2d9468"/>
<path d="M431.85 626.60L436.75 626.60L434.30 631.10Z" fill="#2d9468"/>
<path d="M74.95 710.30L77.50 707.75L80.05 710.30L77.50 712.85Z" fill="#9a6fd0" fill-opacity="1"/>
<path d="M97.25 669.20L99.80 666.65L102.35 669.20L99.80 671.75Z" fill="#9a6fd0" fill-opacity="1"/>
<path d="M119.55 677.00L122.10 674.45L124.65 677.00L122.10 679.55Z" fill="#9a6fd0" fill-opacity="1"/>
<path d="M141.85 641.10L144.40 638.55L146.95 641.10L144.40 643.65Z" fill="#9a6fd0" fill-opacity="1"/>
<path d="M164.15 650.80L166.70 648.25L169.25 650.80L166.70 653.35Z" fill="#9a6fd0" fill-opacity="1"/>
<path d="M186.45 658.10L189.00 655.55L191.55 658.10L189.00 660.65Z" fill="#9a6fd0" fill-opacity="1"/>
<path d="M208.75 659.80L211.30 657.25L213.85 659.80L211.30 662.35Z" fill="#9a6fd0" fill-opacity="1"/>
<path d="M231.05 631.70L233.60 629.15L236.15 631.70L233.60 634.25Z" fill="#9a6fd0" fill-opacity="1"/>
<path d="M253.35 636.90L255.90 634.35L258.45 636.90L255.90 639.45Z" fill="#9a6fd0" fill-opacity="1"/>
<path d="M275.65 626.60L278.20 624.05L280.75 626.60L278.20 629.15Z" fill="#9a6fd0" fill-opacity="1"/>
<path d="M297.95 630.60L300.50 628.05L303.05 630.60L300.50 633.15Z" fill="#9a6fd0" fill-opacity="0.72"/>
<path d="M320.25 631.40L322.80 628.85L325.35 631.40L322.80 633.95Z" fill="#9a6fd0" fill-opacity="0.72"/>
<path d="M342.55 632.60L345.10 630.05L347.65 632.60L345.10 635.15Z" fill="#9a6fd0" fill-opacity="0.72"/>
<path d="M364.85 631.70L367.40 629.15L369.95 631.70L367.40 634.25Z" fill="#9a6fd0" fill-opacity="0.72"/>
<path d="M387.15 633.30L389.70 630.75L392.25 633.30L389.70 635.85Z" fill="#9a6fd0" fill-opacity="0.72"/>
<path d="M409.45 633.00L412.00 630.45L414.55 633.00L412.00 635.55Z" fill="#9a6fd0" fill-opacity="0.72"/>
<path d="M431.75 633.80L434.30 631.25L436.85 633.80L434.30 636.35Z" fill="#9a6fd0" fill-opacity="0.72"/>
<line x1="81.30" y1="436.00" x2="81.30" y2="451.38" stroke="#1f8a64" stroke-width="1.3" />
<path d="M78.80 448.10L83.80 448.10L81.30 456.30Z" fill="#1f8a64"/>
<line x1="154.70" y1="573.20" x2="154.70" y2="588.58" stroke="#1f8a64" stroke-width="1.3" />
<path d="M152.20 585.30L157.20 585.30L154.70 593.50Z" fill="#1f8a64"/>
<line x1="220.35" y1="601.70" x2="220.35" y2="616.68" stroke="#1f8a64" stroke-width="1.3" />
<path d="M217.85 613.40L222.85 613.40L220.35 621.60Z" fill="#1f8a64"/>
<text x="86.00" y="470.70" font-size="14.5" text-anchor="start" fill="#3f8f3c" stroke="#3f8f3c" stroke-width="0.22" >-3</text>
<text x="160.50" y="598.90" font-size="14.5" text-anchor="start" fill="#2a6f5c" stroke="#2a6f5c" stroke-width="0.22" >-3</text>
<text x="225.00" y="620.90" font-size="14" text-anchor="start" fill="#1f8060" stroke="#1f8060" stroke-width="0.22" >-4</text>
<line x1="82.90" y1="705.00" x2="82.90" y2="689.12" stroke="#ccb5f2" stroke-width="1.1" />
<path d="M80.40 692.40L85.40 692.40L82.90 684.20Z" fill="#ccb5f2"/>
<line x1="134.50" y1="676.40" x2="134.50" y2="662.52" stroke="#ccb5f2" stroke-width="1.1" />
<path d="M132.00 665.80L137.00 665.80L134.50 657.60Z" fill="#ccb5f2"/>
<line x1="220.35" y1="657.50" x2="220.35" y2="642.52" stroke="#ccb5f2" stroke-width="1.1" />
<path d="M217.85 645.80L222.85 645.80L220.35 637.60Z" fill="#ccb5f2"/>
<line x1="264.60" y1="638.00" x2="264.60" y2="624.22" stroke="#ccb5f2" stroke-width="1.1" />
<path d="M262.10 627.50L267.10 627.50L264.60 619.30Z" fill="#ccb5f2"/>
<text x="89.20" y="693.10" font-size="13.5" text-anchor="start" fill="#c3b3e8" stroke="#c3b3e8" stroke-width="0.22" >+3</text>
<text x="139.20" y="668.30" font-size="13.5" text-anchor="start" fill="#c3b3e8" stroke="#c3b3e8" stroke-width="0.22" >+3</text>
<text x="223.20" y="668.20" font-size="13.5" text-anchor="start" fill="#c3b3e8" stroke="#c3b3e8" stroke-width="0.22" >+2</text>
<text x="267.70" y="620.40" font-size="13.5" text-anchor="start" fill="#c3b3e8" stroke="#c3b3e8" stroke-width="0.22" >+1</text>
<rect x="329.2" y="420" width="116.6" height="91.6" fill="#fff" stroke="#666" stroke-width="0.9"/>
<rect x="346.25" y="428.35" width="3.7" height="3.7" fill="#2b2b2b"/>
<circle cx="348.10" cy="448.40" r="2.15" fill="#d5304b"/>
<path d="M345.65 468.80L350.55 468.80L348.10 464.30Z" fill="#2a5fb0"/>
<path d="M345.65 482.40L350.55 482.40L348.10 486.90Z" fill="#2d9468"/>
<path d="M345.55 502.70L348.10 500.15L350.65 502.70L348.10 505.25Z" fill="#9a6fd0" fill-opacity="1"/>
<text x="368.70" y="435.30" font-size="14.3" text-anchor="start" fill="#151515" stroke="#151515" stroke-width="0.22" >10</text>
<text x="368.70" y="453.50" font-size="14.3" text-anchor="start" fill="#151515" stroke="#151515" stroke-width="0.22" >5x2</text>
<text x="368.70" y="471.70" font-size="14.3" text-anchor="start" fill="#151515" stroke="#151515" stroke-width="0.22" >10x1</text>
<text x="368.70" y="489.70" font-size="14.3" text-anchor="start" fill="#151515" stroke="#151515" stroke-width="0.22" >20-3-3-4</text>
<text x="368.70" y="507.80" font-size="14.3" text-anchor="start" fill="#151515" stroke="#151515" stroke-width="0.22" >1+3+3+2+1</text>
<text x="217.8" y="765.1" font-size="16.3" fill="#151515" stroke="#151515" stroke-width="0.22">Time <tspan font-style="italic">t</tspan> (ns)</text>
<text transform="translate(26.6,663) rotate(-90)" font-size="16.35" fill="#151515" stroke="#151515" stroke-width="0.22">Counter value (arb. units)</text>
<text x="3.20" y="406.30" font-size="16" text-anchor="start" fill="#151515" stroke="#151515" stroke-width="0.22" letter-spacing="1.3">b)</text>
</svg>
</body></html>
